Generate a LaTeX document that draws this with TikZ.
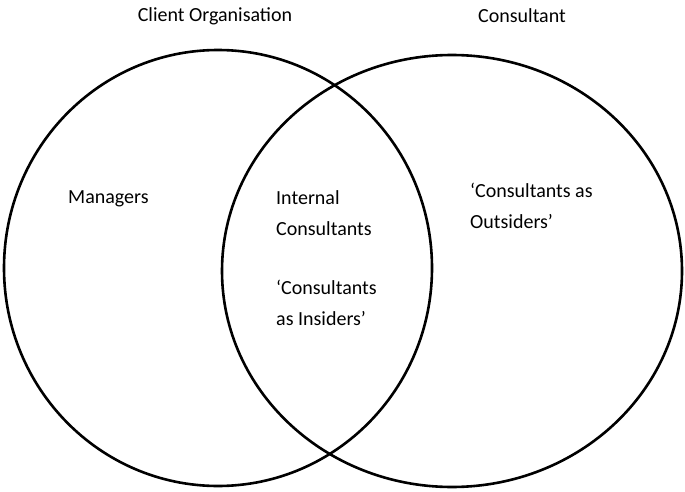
\documentclass[tikz,border=0pt]{standalone}
\usepackage{fontspec}
\setmainfont{Carlito}
\begin{document}
\begin{tikzpicture}[x=1pt,y=-1pt,
  ring/.style={draw=black,line width=2.6pt},
  lbl/.style={anchor=north west,inner sep=0pt,align=left,font=\fontsize{20}{31}\selectfont},
  ttl/.style={inner sep=0pt,font=\fontsize{20}{24}\selectfont}]
\useasboundingbox (0,0) rectangle (685,492);
\draw[ring] (218,268) ellipse [x radius=214, y radius=218];
\draw[ring] (452,271) ellipse [x radius=230, y radius=216];
\node[ttl] (t1) at (215,16) {Client Organisation};
\node[ttl] (t2) at (522,16) {Consultant};
\node[lbl] (m) at (68,190) {Managers};
\node[lbl] (ic) at (276,190) {Internal\\Consultants};
\node[lbl] (ins) at (276,280) {‘Consultants\\as Insiders’};
\node[lbl] (out) at (470,183) {‘Consultants as\\Outsiders’};
\end{tikzpicture}
\end{document}
